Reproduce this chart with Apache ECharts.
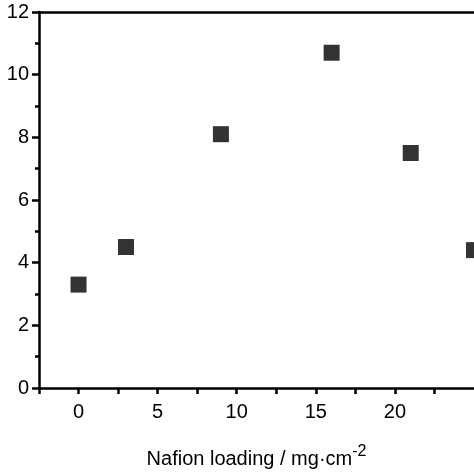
<!DOCTYPE html>
<html>
<head>
<meta charset="UTF-8">
<script src="https://cdn.jsdelivr.net/npm/echarts@6/dist/echarts.min.js"></script>
</head>
<body style="margin:0">
<div id="container" style="width:474px;height:474px;"></div>
<script>
var loading = [0, 3, 9, 16, 21, 25];
var values = [3.3, 4.5, 8.1, 10.7, 7.5, 4.4];
var pts = loading.map(function (x, i) { return [x, values[i]]; });
var chart = echarts.init(document.getElementById('container'));
var line = {show: true, onZero: false, lineStyle: {color: '#000', width: 2.5}};
var font = 'Liberation Sans, Arial, sans-serif';
chart.setOption({
    animation: false,
    grid: {left: 39, right: 0, top: 12, bottom: 78},
    xAxis: [{
        type: 'value', min: -2.5, max: 25, interval: 2.5,
        axisLine: line, splitLine: {show: false},
        axisTick: {show: true, inside: false, length: 6, lineStyle: {color: '#000', width: 2.5}},
        axisLabel: {
            color: '#000', fontSize: 20, fontFamily: font, margin: 14, showMaxLabel: false,
            formatter: function (v) { return (Math.abs(v % 5) < 1e-6) ? String(v) : ''; }
        },
        name: 'Nafion loading / mg·cm{s|-2}', nameLocation: 'middle', nameGap: 56,
        nameTextStyle: {color: '#000', fontSize: 20, fontFamily: font,
            rich: {s: {fontSize: 16, verticalAlign: 'top', padding: [0, 0, 14, 0], color: '#000'}}}
    }, {
        type: 'value', position: 'top', min: -2.5, max: 25,
        axisLine: line, axisTick: {show: false}, axisLabel: {show: false}, splitLine: {show: false}
    }],
    yAxis: {
        type: 'value', min: 0, max: 12, interval: 2,
        axisLine: line, splitLine: {show: false},
        axisTick: {show: true, length: 7, lineStyle: {color: '#000', width: 2.5}},
        minorTick: {show: true, splitNumber: 2, length: 4, lineStyle: {color: '#000', width: 2.5}},
        axisLabel: {color: '#000', fontSize: 20, fontFamily: font, margin: 10}
    },
    series: [{
        type: 'scatter', data: pts, symbol: 'rect', symbolSize: 16, clip: false,
        itemStyle: {color: '#000'}
    }]
});
</script>
</body>
</html>
